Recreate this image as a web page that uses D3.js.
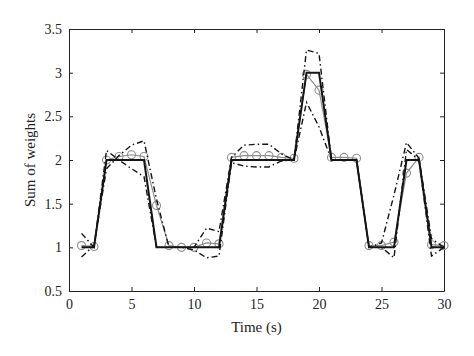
<!DOCTYPE html>
<html>
<head>
<meta charset="utf-8">
<script src="https://cdn.jsdelivr.net/npm/d3@7"></script>
<style>
  html, body { margin: 0; padding: 0; background: #fff; }
  svg { display: block; }
  .axis text { font-family: "Liberation Serif", "DejaVu Serif", serif; font-size: 14px; fill: #222; }
  .axis path, .axis line { stroke: #222; stroke-width: 1; }
</style>
</head>
<body>
<svg id="chart" width="474" height="356"></svg>
<script>
const time = d3.range(1, 31);
const trueWeights = [1,1,2,2,2,2,1,1,1,1,1,1,2,2,2,2,2,2,3,3,2,2,2,1,1,1,2,2,1,1];
const estimated = [1.02,1.01,2.0,2.04,2.06,2.04,1.48,1.02,1.0,1.0,1.05,1.04,2.03,2.05,2.05,2.05,2.03,2.02,2.98,2.80,2.03,2.03,2.02,1.02,1.02,1.06,1.85,2.03,1.03,1.02];
const boundA = [1.16,1.0,2.11,2.0,1.9,1.81,1.0,1.0,1.0,1.0,1.22,1.18,2.03,2.17,2.18,2.18,2.07,2.0,3.26,3.22,2.0,2.0,2.0,1.0,1.05,1.6,2.2,2.02,1.1,1.0];
const boundB = [0.89,1.02,1.9,2.05,2.17,2.22,1.55,1.0,1.0,0.97,0.88,0.9,1.97,1.93,1.92,1.92,1.99,2.0,2.66,2.38,2.0,2.0,2.0,1.0,1.0,0.88,2.12,2.0,0.9,1.0];
const xTicks = [0,5,10,15,20,25,30];
const yTicks = [0.5,1,1.5,2,2.5,3,3.5];

const svg = d3.select("#chart");
const mLeft = 69, mRight = 444, mTop = 29, mBottom = 291;
const x = d3.scaleLinear().domain([0, 30]).range([mLeft, mRight]);
const y = d3.scaleLinear().domain([0.5, 3.5]).range([mBottom, mTop]);

// axes (inward ticks) on all four sides
svg.append("g").attr("class", "axis").attr("transform", `translate(0,${mBottom})`)
  .call(d3.axisBottom(x).tickValues(xTicks).tickSizeInner(-4).tickSizeOuter(0).tickPadding(8).tickFormat(d3.format("d")));
svg.append("g").attr("class", "axis").attr("transform", `translate(0,${mTop})`)
  .call(d3.axisTop(x).tickValues(xTicks).tickSizeInner(-4).tickSizeOuter(0).tickFormat(""));
svg.append("g").attr("class", "axis").attr("transform", `translate(${mLeft},0)`)
  .call(d3.axisLeft(y).tickValues(yTicks).tickSizeInner(-4).tickSizeOuter(0).tickPadding(7).tickFormat(d => String(d)));
svg.append("g").attr("class", "axis").attr("transform", `translate(${mRight},0)`)
  .call(d3.axisRight(y).tickValues(yTicks).tickSizeInner(-4).tickSizeOuter(0).tickFormat(""));

const line = d3.line().x((d, i) => x(time[i])).y(d => y(d));

// estimated (gray with circles)
svg.append("path").datum(estimated).attr("d", line)
  .attr("fill", "none").attr("stroke", "#8c8c8c").attr("stroke-width", 1.2);
svg.append("g").selectAll("circle").data(estimated).join("circle")
  .attr("cx", (d, i) => x(time[i])).attr("cy", d => y(d)).attr("r", 4)
  .attr("fill", "none").attr("stroke", "#8c8c8c").attr("stroke-width", 1.1);

// true
svg.append("path").datum(trueWeights).attr("d", line)
  .attr("fill", "none").attr("stroke", "#151515").attr("stroke-width", 2);

// dash-dot bounds
svg.append("path").datum(boundA).attr("d", line)
  .attr("fill", "none").attr("stroke", "#151515").attr("stroke-width", 1.4)
  .attr("stroke-dasharray", "6,3,1.5,3");
svg.append("path").datum(boundB).attr("d", line)
  .attr("fill", "none").attr("stroke", "#151515").attr("stroke-width", 1.4)
  .attr("stroke-dasharray", "6,3,1.5,3");

// titles
svg.append("text").attr("x", (mLeft + mRight) / 2).attr("y", 332)
  .attr("text-anchor", "middle")
  .style("font-family", '"Liberation Serif", "DejaVu Serif", serif').style("font-size", "15px").style("fill", "#222")
  .text("Time (s)");
svg.append("text").attr("transform", `translate(35,${(mTop + mBottom) / 2}) rotate(-90)`)
  .attr("text-anchor", "middle")
  .style("font-family", '"Liberation Serif", "DejaVu Serif", serif').style("font-size", "15px").style("fill", "#222")
  .text("Sum of weights");
</script>
</body>
</html>
